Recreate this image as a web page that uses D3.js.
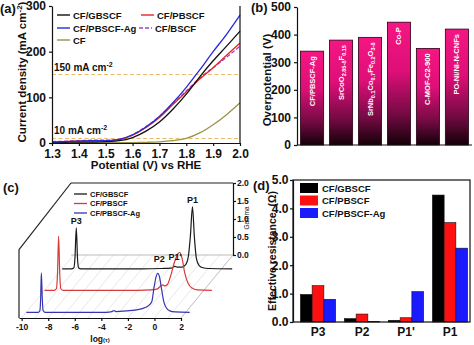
<!DOCTYPE html>
<html>
<head>
<meta charset="utf-8">
<script src="https://cdn.jsdelivr.net/npm/d3@7"></script>
<style>
  body { margin: 0; background: #fff; }
  svg text { font-family: "Liberation Sans", Arial, sans-serif; font-weight: bold; fill: #111; }
</style>
</head>
<body>
<div id="visualization"></div>
<script>
// ---- (a) polarization curves ----
const potential = [1.30, 1.35, 1.40, 1.45, 1.50, 1.55, 1.60, 1.65, 1.70, 1.75, 1.80, 1.85, 1.90, 1.95, 2.00];
const jGBSCF   = [1, 1.5, 2, 2, 3, 5, 12, 26, 46, 74, 107, 145, 180, 212, 245];
const jPBSCF   = [2, 3, 4, 4, 5, 7, 17, 34, 56, 84, 112, 140, 165, 192, 219];
const jPBSCFAg = [2, 3, 4, 5, 5, 8, 18, 35, 58, 88, 122, 160, 200, 238, 280];
const jBSCF    = [3, 4, 5, 6, 6, 8, 18, 36, 58, 86, 114, 142, 165, 188, 212];
const jCF      = [0, 0, 0, 0, 0.5, 0.5, 1, 1.5, 2.5, 5, 10, 22, 40, 62, 88];
const refCurrents = [150, 10];

// ---- (b) overpotential comparison ----
const catalysts = ["CF/PBSCF-Ag", "SrCoO_{2.85-δ}F_{0.15}", "SrNb_{0.1}Co_{0.7}Fe_{0.2}O_{3-δ}", "Co-P", "C-MOF-C2-900", "PO-Ni/Ni-N-CNFs"];
const overpotential = [340, 380, 390, 445, 350, 420];

// ---- (c) DRT spectra, [log(tau), gamma] ----
const drtGBSCF = [[-10,0],[-9.3,0],[-9.12,0.03],[-9.04,0.3],[-8.94,1.14],[-8.85,0.3],[-8.77,0.03],[-8.6,0],
  [-4,0],[-2.5,0.01],[-1.8,0.02],[-1.6,0.06],[-1.5,0.07],[-1.35,0.05],[-1.0,0.05],[-0.7,0.12],[-0.5,0.35],
  [-0.35,0.9],[-0.19,1.72],[-0.05,0.9],[0.1,0.3],[0.3,0.1],[0.6,0.03],[1.0,0.01],[2.8,0]];
const drtPBSCF = [[-10,0],[-9.25,0],[-9.1,0.05],[-9.02,0.5],[-8.94,1.5],[-8.86,0.5],[-8.78,0.05],[-8.6,0],
  [-3,0],[-2,0.01],[-1.5,0.04],[-1.25,0.12],[-1.1,0.15],[-0.95,0.12],[-0.75,0.16],[-0.5,0.4],[-0.2,0.8],
  [0.05,1.02],[0.19,1.05],[0.35,0.9],[0.55,0.5],[0.8,0.2],[1.1,0.06],[1.5,0.01],[2.6,0]];
const drtPBSCFAg = [[-10,0],[-9.1,0],[-8.98,0.05],[-8.92,0.4],[-8.87,1.1],[-8.8,0.4],[-8.74,0.05],[-8.6,0],
  [-4,0],[-3.55,0.02],[-3.4,0.05],[-3.25,0.02],[-2.5,0.04],[-1.5,0.08],[-1.0,0.14],[-0.75,0.2],[-0.55,0.3],
  [-0.38,0.7],[-0.22,1.0],[-0.1,1.08],[0.02,1.0],[0.18,0.65],[0.35,0.3],[0.55,0.12],[0.8,0.04],[1.2,0.01],[2.3,0]];
const drtPeaks = [["P3", -8.94, 1.14, 0.78], ["P1", -0.19, 1.72, 0.78], ["P2", -2.7, 0.1, 0.78], ["P1'", -1.5, 0.07, 0.78]];

// ---- (d) effective resistance per process ----
const processes = ["P3", "P2", "P1'", "P1"];
const rGBSCF   = [0.97, 0.12, 0.06, 4.47];
const rPBSCF   = [1.28, 0.28, 0.15, 3.5];
const rPBSCFAg = [0.8, 0.02, 1.07, 2.6];

const sampleNames = ["CF/GBSCF", "CF/PBSCF", "CF/PBSCF-Ag"];

const svg = d3.select("#visualization")
    .append("svg")
    .attr("width", 474)
    .attr("height", 345);

function styleAxis(g, size) {
    g.selectAll("text").style("font-size", size + "px");
    g.selectAll("line, path").attr("stroke", "#111").attr("stroke-width", 1.2);
}

// ================= (a) =================
function drawPanelA() {
    const x = d3.scaleLinear().domain([1.3, 2.0]).range([52, 240]);
    const y = d3.scaleLinear().domain([0, 300]).range([143, 6]);
    const g = svg.append("g");

    // reference current lines
    g.selectAll(".ref")
        .data(refCurrents)
        .enter().append("line")
        .attr("x1", x(1.3)).attr("x2", x(2.0))
        .attr("y1", d => y(d)).attr("y2", d => y(d))
        .attr("stroke", "#e9bd6c")
        .attr("stroke-width", 1.1)
        .attr("stroke-dasharray", "4,2.5");

    refCurrents.forEach(d => {
        const t = g.append("text")
            .attr("x", 54).attr("y", y(d) - 4)
            .style("font-size", "10px").attr("fill", "#222");
        t.append("tspan").text(d + " mA cm");
        t.append("tspan").text("-2").attr("dy", -4).style("font-size", "7px");
    });

    const series = [
        { v: jCF, color: "#9a9444", dash: null },
        { v: jBSCF, color: "#a040d0", dash: "4,2" },
        { v: jPBSCF, color: "#e42525", dash: null },
        { v: jGBSCF, color: "#111", dash: null },
        { v: jPBSCFAg, color: "#2a2ad6", dash: null }
    ];
    const line = d3.line()
        .x((d, i) => x(potential[i]))
        .y(d => y(d))
        .curve(d3.curveMonotoneX);
    g.selectAll(".lsv")
        .data(series)
        .enter().append("path")
        .attr("d", d => line(d.v))
        .attr("fill", "none")
        .attr("stroke", d => d.color)
        .attr("stroke-width", 1.3)
        .attr("stroke-dasharray", d => d.dash);

    const xAxis = g.append("g")
        .attr("transform", "translate(0,143)")
        .call(d3.axisBottom(x).tickValues([1.3, 1.4, 1.5, 1.6, 1.7, 1.8, 1.9, 2.0]).tickFormat(d3.format(".1f")).tickSize(3).tickSizeOuter(0));
    styleAxis(xAxis, 12);
    const yAxis = g.append("g")
        .attr("transform", "translate(52,0)")
        .call(d3.axisLeft(y).tickValues([0, 100, 200, 300]).tickSize(3).tickSizeOuter(0));
    styleAxis(yAxis, 12);
    g.append("line")
        .attr("x1", 240).attr("x2", 240).attr("y1", 6).attr("y2", 143)
        .attr("stroke", "#111").attr("stroke-width", 1.2);

    // legend
    const legend = [
        { name: "CF/GBSCF", color: "#111", dash: null, lx: 57, ly: 15 },
        { name: "CF/PBSCF-Ag", color: "#2a2ad6", dash: null, lx: 57, ly: 28 },
        { name: "CF", color: "#9a9444", dash: null, lx: 57, ly: 40 },
        { name: "CF/PBSCF", color: "#e42525", dash: null, lx: 141, ly: 15 },
        { name: "CF/BSCF", color: "#a040d0", dash: "4,2", lx: 139, ly: 28 }
    ];
    const lg = g.selectAll(".leg").data(legend).enter().append("g");
    lg.append("line")
        .attr("x1", d => d.lx).attr("x2", d => d.lx + 13)
        .attr("y1", d => d.ly).attr("y2", d => d.ly)
        .attr("stroke", d => d.color).attr("stroke-width", 1.4)
        .attr("stroke-dasharray", d => d.dash);
    lg.append("text")
        .attr("x", d => d.lx + 16).attr("y", d => d.ly + 3.5)
        .style("font-size", "9.5px")
        .text(d => d.name);

    g.append("text").attr("x", 146).attr("y", 169)
        .attr("text-anchor", "middle").style("font-size", "11.5px")
        .text("Potential (V) vs RHE");
    const yt = g.append("text")
        .attr("transform", "translate(26,72) rotate(-90)")
        .attr("text-anchor", "middle").style("font-size", "11.5px");
    yt.append("tspan").text("Current density (mA cm");
    yt.append("tspan").text("-2").attr("dy", -4).style("font-size", "8px");
    yt.append("tspan").text(")").attr("dy", 4);
    g.append("text").attr("x", 0).attr("y", 13).style("font-size", "13px").text("(a)");
}

// ================= (b) =================
function drawPanelB() {
    const x = d3.scaleBand().domain(catalysts).range([297, 472]).paddingInner(0.2).paddingOuter(0.12);
    const y = d3.scaleLinear().domain([0, 500]).range([145, 7]);
    const g = svg.append("g");

    const grad = svg.append("defs").append("linearGradient")
        .attr("id", "barGrad").attr("x1", 0).attr("y1", 0).attr("x2", 0).attr("y2", 1);
    grad.append("stop").attr("offset", "0%").attr("stop-color", "#f41683");
    grad.append("stop").attr("offset", "40%").attr("stop-color", "#de0f78");
    grad.append("stop").attr("offset", "75%").attr("stop-color", "#740a43");
    grad.append("stop").attr("offset", "100%").attr("stop-color", "#140008");

    g.selectAll(".bar")
        .data(catalysts)
        .enter().append("rect")
        .attr("x", d => x(d))
        .attr("y", (d, i) => y(overpotential[i]))
        .attr("width", x.bandwidth())
        .attr("height", (d, i) => y(0) - y(overpotential[i]))
        .attr("fill", "url(#barGrad)")
        .attr("stroke", "#2a0015")
        .attr("stroke-width", 0.8);

    // rotated labels with subscripts, written as "A_{sub}B"
    catalysts.forEach((name, i) => {
        const t = g.append("text")
            .attr("transform", `translate(${x(name) + x.bandwidth() / 2 + 2.5},${y(overpotential[i]) + 5}) rotate(-90)`)
            .attr("text-anchor", "end")
            .style("font-size", "7.5px")
            .style("fill", "#fff");
        const parts = name.split(/(_\{[^}]*\})/).filter(s => s.length);
        let shifted = false;
        parts.forEach(p => {
            if (p.startsWith("_{")) {
                t.append("tspan").text(p.slice(2, -1)).attr("dy", shifted ? 0 : 2).style("font-size", "5.5px");
                shifted = true;
            } else {
                t.append("tspan").text(p).attr("dy", shifted ? -2 : 0);
                shifted = false;
            }
        });
    });

    const yAxis = g.append("g")
        .attr("transform", "translate(297,0)")
        .call(d3.axisLeft(y).tickValues([0, 100, 200, 300, 400, 500]).tickSize(3).tickSizeOuter(0));
    styleAxis(yAxis, 12);
    g.append("line").attr("x1", 297).attr("x2", 472).attr("y1", 145).attr("y2", 145)
        .attr("stroke", "#111").attr("stroke-width", 1.2);

    g.append("text")
        .attr("transform", "translate(271,80) rotate(-90)")
        .attr("text-anchor", "middle").style("font-size", "11.5px")
        .text("Overpotential (V)");
    g.append("text").attr("x", 251).attr("y", 12).style("font-size", "13px").text("(b)");
}

// ================= (c) =================
function drawPanelC() {
    const x = d3.scaleLinear().domain([-10.2, 2.0]).range([19, 181]);
    const gam = d3.scaleLinear().domain([0, 2]).range([0, 72]);
    const floorY = 318, depthX = 52, depthY = 63;
    const proj = (t, depth, gv) => [x(t) + depth * depthX, floorY - depth * depthY - gam(gv)];
    const g = svg.append("g");
    const seg = (a, b, color, w) => g.append("line")
        .attr("x1", a[0]).attr("y1", a[1]).attr("x2", b[0]).attr("y2", b[1])
        .attr("stroke", color).attr("stroke-width", w);

    // floor grid
    d3.range(-10, 3, 1).forEach(t => seg(proj(t, 0, 0), proj(t, 1, 0), "#d6d6d6", 0.6));
    seg(proj(-10.2, 1, 0), proj(2, 1, 0), "#aaa", 0.8);
    seg(proj(2, 0, 0), proj(2, 1, 0), "#bbb", 0.8);

    // box outline
    seg(proj(-10.2, 0, 0), proj(-10.2, 0, 1.9), "#222", 1.2);
    seg(proj(-10.2, 0, 1.9), proj(-10.2, 1, 2), "#222", 1.2);
    seg(proj(-10.2, 1, 2), proj(2, 1, 2), "#222", 1.2);

    // gamma axis on the back-right edge
    const gy = d3.scaleLinear().domain([0, 2]).range([floorY - depthY, floorY - depthY - gam(2)]);
    const gAxis = g.append("g")
        .attr("transform", `translate(${x(2) + depthX},0)`)
        .call(d3.axisRight(gy).tickValues([0, 0.5, 1, 1.5, 2]).tickFormat(d3.format(".1f")).tickSize(3).tickSizeOuter(0));
    styleAxis(gAxis, 8.5);
    gAxis.selectAll("text").attr("x", 4);
    g.append("text")
        .attr("transform", "translate(249,218) rotate(-90)")
        .attr("text-anchor", "middle")
        .style("font-size", "6.5px").style("font-weight", "normal")
        .text("Gamma");

    // log(tau) axis on the front edge
    const xAxis = g.append("g")
        .attr("transform", `translate(0,${floorY})`)
        .call(d3.axisBottom(x).tickValues([-10, -8, -6, -4, -2, 0, 2]).tickSize(3).tickSizeOuter(0));
    styleAxis(xAxis, 8.5);
    xAxis.selectAll("text").text(d => d < 0 ? "-" + Math.abs(d) : d);
    const xl = g.append("text").attr("x", 100).attr("y", 342)
        .attr("text-anchor", "middle").style("font-size", "8.5px");
    xl.append("tspan").text("log");
    xl.append("tspan").text("(τ)").style("font-size", "6px");

    // spectra, back to front
    const spectra = [
        { data: drtGBSCF, depth: 0.78, color: "#1a1a1a" },
        { data: drtPBSCF, depth: 0.44, color: "#d63a3a" },
        { data: drtPBSCFAg, depth: 0.09, color: "#3535b0" }
    ];
    const line = d3.line().curve(d3.curveMonotoneX);
    spectra.forEach(s => {
        g.append("path")
            .attr("d", line(s.data.map(p => proj(p[0], s.depth, p[1]))))
            .attr("fill", "none")
            .attr("stroke", s.color)
            .attr("stroke-width", 1.2);
    });

    // peak labels
    const labelShift = { "P3": [0, -4], "P1": [0, -4], "P2": [0, -3], "P1'": [0, -6] };
    drtPeaks.forEach(p => {
        const pos = proj(p[1], p[3], p[2]);
        g.append("text")
            .attr("x", pos[0] + labelShift[p[0]][0]).attr("y", pos[1] + labelShift[p[0]][1])
            .attr("text-anchor", "middle").style("font-size", "9px")
            .text(p[0]);
    });

    // legend
    const colors = ["#1a1a1a", "#d63a3a", "#3535b0"];
    sampleNames.forEach((n, i) => {
        const ly = 194 + i * 9.5;
        seg([74, ly], [87, ly], colors[i], 1.3);
        g.append("text").attr("x", 90).attr("y", ly + 2.7).style("font-size", "7.5px").text(n);
    });
    g.append("text").attr("x", 3).attr("y", 192).style("font-size", "13px").text("(c)");
}

// ================= (d) =================
function drawPanelD() {
    const x0 = d3.scaleBand().domain(processes).range([296, 472]).paddingInner(0.2).paddingOuter(0.1);
    const x1 = d3.scaleBand().domain(sampleNames).range([0, x0.bandwidth()]);
    const y = d3.scaleLinear().domain([0, 5]).range([322, 180]);
    const colors = ["#000", "#ff1010", "#1a1aff"];
    const values = [rGBSCF, rPBSCF, rPBSCFAg];
    const g = svg.append("g");

    processes.forEach((p, pi) => {
        sampleNames.forEach((s, si) => {
            g.append("rect")
                .attr("x", x0(p) + x1(s))
                .attr("y", y(values[si][pi]))
                .attr("width", x1.bandwidth())
                .attr("height", y(0) - y(values[si][pi]))
                .attr("fill", colors[si])
                .attr("stroke", "#111").attr("stroke-width", 0.6);
        });
    });

    g.append("rect").attr("x", 293).attr("y", 180).attr("width", 177).attr("height", 142)
        .attr("fill", "none").attr("stroke", "#111").attr("stroke-width", 1.2);
    const yAxis = g.append("g")
        .attr("transform", "translate(293,0)")
        .call(d3.axisLeft(y).tickValues([0, 1, 2, 3, 4, 5]).tickSize(3).tickPadding(1.5).tickSizeOuter(0));
    styleAxis(yAxis, 12);
    const xAxis = g.append("g")
        .attr("transform", "translate(0,322)")
        .call(d3.axisBottom(x0).tickSize(0));
    styleAxis(xAxis, 12);
    xAxis.select(".domain").remove();
    xAxis.selectAll("text").attr("dy", "0.9em");

    sampleNames.forEach((n, i) => {
        const ly = 188 + i * 12.5;
        g.append("rect").attr("x", 300).attr("y", ly - 5).attr("width", 18).attr("height", 10)
            .attr("fill", colors[i]);
        g.append("text").attr("x", 322).attr("y", ly + 3.5).style("font-size", "9.5px").text(n);
    });

    g.append("text")
        .attr("transform", "translate(276,251) rotate(-90)")
        .attr("text-anchor", "middle").style("font-size", "10.5px")
        .text("Effective resistance, (Ω)");
    g.append("text").attr("x", 253).attr("y", 190).style("font-size", "13px").text("(d)");
}

drawPanelA();
drawPanelB();
drawPanelC();
drawPanelD();
</script>
</body>
</html>
